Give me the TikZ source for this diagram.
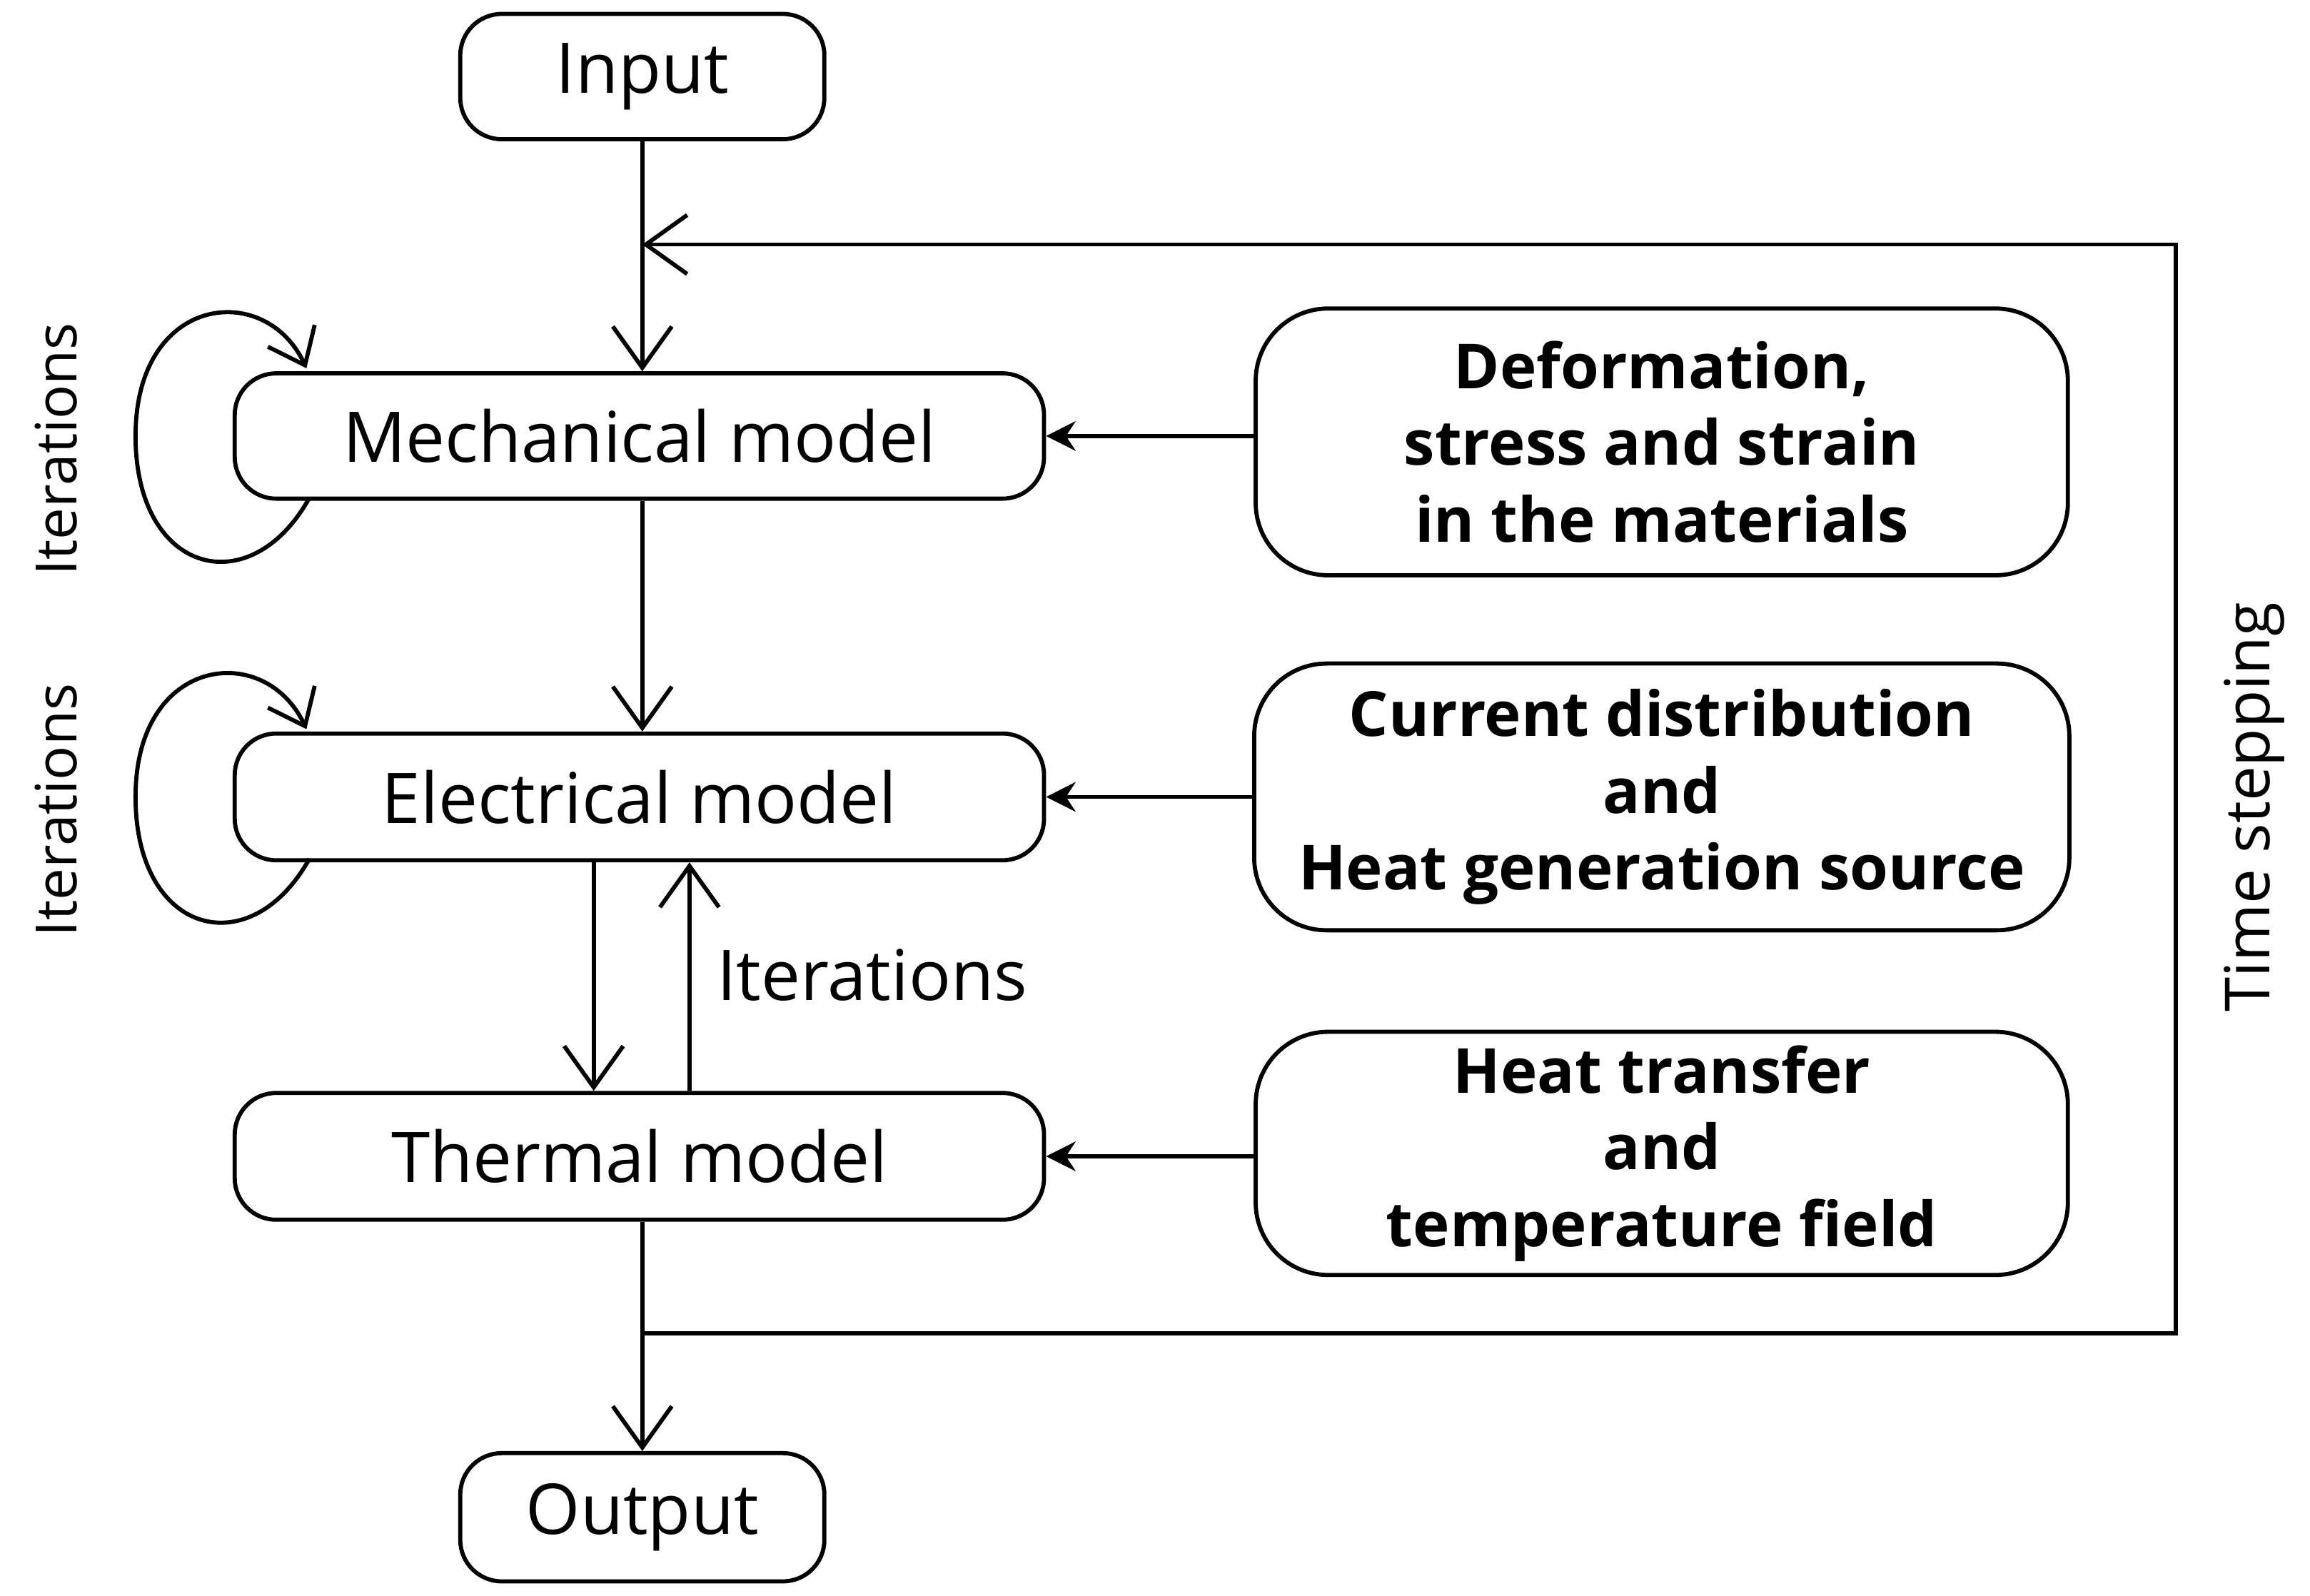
\documentclass[tikz,border=0pt]{standalone}
\usepackage{fontspec}
\setmainfont{Open Sans}
\usetikzlibrary{arrows.meta}
\begin{document}
\begin{tikzpicture}[x=0.01cm,y=-0.01cm,
 box/.style={draw,thick,rounded corners=8pt,inner sep=0pt,font=\fontsize{13.5}{16}\selectfont},
 rbox/.style={draw,thick,rounded corners=14pt,inner sep=0pt,align=center,font=\fontsize{12}{14.8}\selectfont\bfseries},
 big/.style={-{Straight Barb[length=2.8mm,width=4mm]},thick},
 small/.style={-{Stealth[length=2mm,width=2mm]},thick},
 lab/.style={font=\fontsize{13.5}{16}\selectfont}]
\useasboundingbox (0,0) rectangle (1568,1083);
\node[box,minimum width=2.47cm,minimum height=0.85cm] (in) at (436,52) {Input};
\node[box,minimum width=5.49cm,minimum height=0.85cm] (mech) at (434,296) {Mechanical model};
\node[box,minimum width=5.49cm,minimum height=0.86cm] (elec) at (434,541) {Electrical model};
\node[box,minimum width=5.49cm,minimum height=0.86cm] (ther) at (434,785) {Thermal model};
\node[box,minimum width=2.47cm,minimum height=0.87cm] (out) at (436,1030) {Output};
\node[rbox,minimum width=5.51cm,minimum height=1.81cm] (r1) at (1128,300) {Deformation,\\stress and strain\\in the materials};
\node[rbox,minimum width=5.53cm,minimum height=1.81cm] (r2) at (1128,541) {Current distribution\\and\\Heat generation source};
\node[rbox,minimum width=5.51cm,minimum height=1.65cm] (r3) at (1128,783) {Heat transfer\\and\\temperature field};
\draw[small] (r1.west |- mech.east) -- (mech.east);
\draw[small] (r2.west |- elec.east) -- (elec.east);
\draw[small] (r3.west |- ther.east) -- (ther.east);
\draw[big] (in.south -| 436,0) -- (mech.north -| 436,0);
\draw[big] (mech.south -| 436,0) -- (elec.north -| 436,0);
\draw[big] (elec.south -| 403,0) -- (ther.north -| 403,0);
\draw[big] (ther.north -| 468,0) -- (elec.south -| 468,0);
\draw[big] (ther.south -| 436,0) -- (out.north -| 436,0);
\coordinate (f0) at (436,905);
\coordinate (f1) at (1477,905);
\coordinate (f2) at (1477,166);
\coordinate (f3) at (436,166);
\draw[big] (f0) -- (f1) -- (f2) -- (f3);
\node[lab] at (592,662) {Iterations};
\node[lab,rotate=90,font=\fontsize{12}{14}\selectfont] at (1530,548) {Time stepping};
\node[lab,rotate=90,font=\fontsize{11}{13}\selectfont] at (38,305) {Iterations};
\node[lab,rotate=90,font=\fontsize{11}{13}\selectfont] at (38,550) {Iterations};
\draw[-{Straight Barb[length=2.2mm,width=3.5mm]},thick] (210,338) .. controls (170,410) and (92,390) .. (92,296) .. controls (92,200) and (180,190) .. (208,250);
\draw[-{Straight Barb[length=2.2mm,width=3.5mm]},thick] (210,583) .. controls (170,655) and (92,635) .. (92,541) .. controls (92,445) and (180,435) .. (208,495);
\end{tikzpicture}
\end{document}
